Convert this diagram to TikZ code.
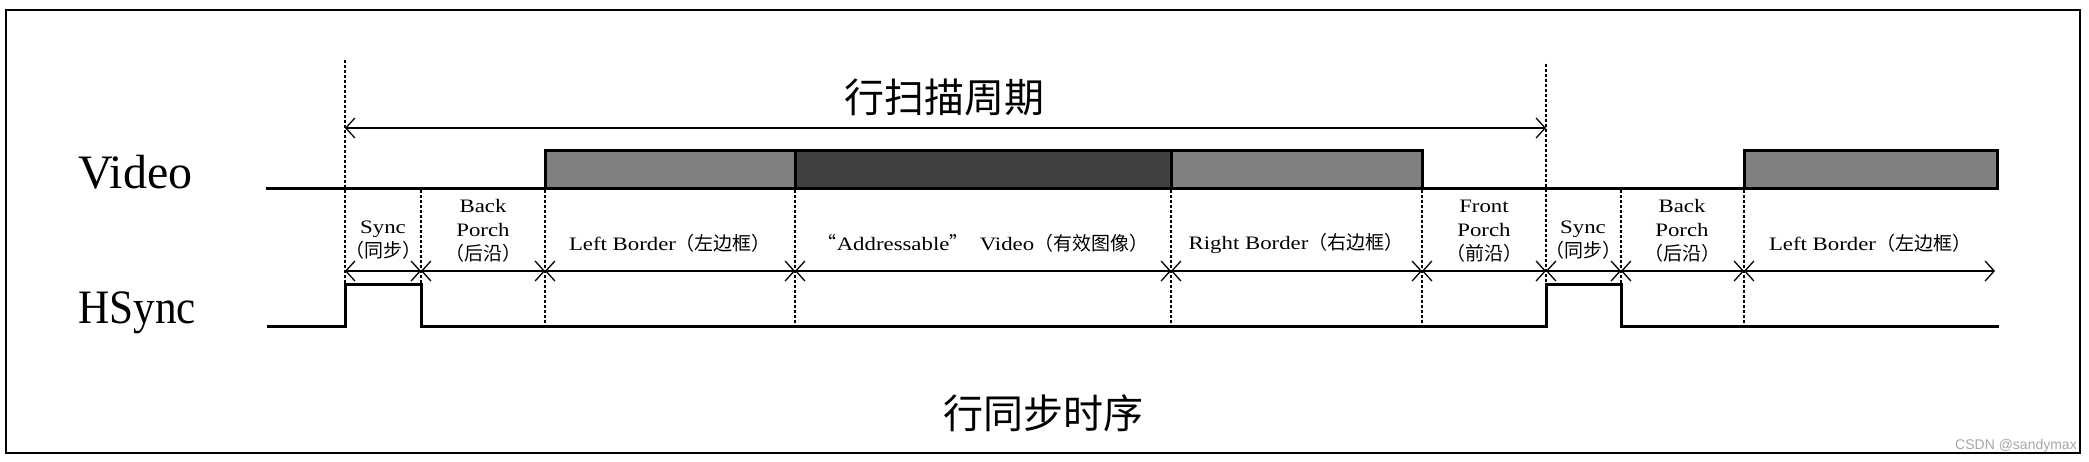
\documentclass[tikz,border=0pt]{standalone}
\usepackage{fontspec}
\setmainfont{Liberation Serif}
\newfontfamily\lat[FakeStretch=1.2]{Liberation Serif}
\newfontfamily\latn[FakeStretch=0.9]{Liberation Serif}
\newfontfamily\cjk{Noto Sans CJK SC}
\newfontfamily\wmfont{Liberation Sans}
\usetikzlibrary{arrows.meta}
\definecolor{lgray}{HTML}{808080}
\definecolor{dgray}{HTML}{404040}
\begin{document}
\begin{tikzpicture}[x=1pt,y=-1pt,
  sig/.style={line width=3pt, line join=miter, line cap=rect},
  guide/.style={line width=1.2pt, dash pattern=on 3pt off 2pt},
  dim/.style={line width=1.3pt, {Straight Barb[length=9pt,width=20pt]}-{Straight Barb[length=9pt,width=20pt]}},
  lbl/.style={font=\lat\fontsize{19}{24}\selectfont, align=center, inner sep=0pt},
  big/.style={font=\fontsize{48}{48}\selectfont, inner sep=0pt, anchor=base west},
  ttl/.style={font=\cjk\fontsize{40}{40}\selectfont, inner sep=0pt}]
\useasboundingbox (0,0) rectangle (2089,462);
% frame
\draw[line width=2.5pt] (6,10) rectangle (2080,453);

% time points on the dimension line
\foreach \n/\x in {a/345,b/421,c/545,d/795,e/1171,f/1422,g/1546,h/1621,i/1744,j/1995}{
  \coordinate (m\n) at (\x,271);
}
% fills of the video signal
\fill[lgray] (545,151) rectangle (795,189);
\fill[dgray] (795,151) rectangle (1171,189);
\fill[lgray] (1171,151) rectangle (1422,189);
\fill[lgray] (1744,151) rectangle (1997,189);

% dashed guides
\draw[guide] (345,60) -- (345,327);
\draw[guide] (1546,64) -- (1546,327);
\foreach \x in {421,545,795,1171,1422,1621,1744}{
  \draw[guide] (\x,190) -- (\x,327);
}

% video signal outline
\draw[sig] (267,189) -- (1997,189);
\draw[sig] (545,189) -- (545,151) -- (1422,151) -- (1422,189);
\draw[sig] (795,151) -- (795,189);
\draw[sig] (1171,151) -- (1171,189);
\draw[sig] (1744,189) -- (1744,151) -- (1997,151) -- (1997,189);

% hsync signal
\draw[sig] (268,327) -- (345,327) -- (345,285) -- (421,285) -- (421,327)
  -- (1546,327) -- (1546,285) -- (1621,285) -- (1621,327) -- (1997,327);

% scan period arrow
\coordinate (sa) at (345,128);
\coordinate (sb) at (1546,128);
\draw[dim] (sa) -- (sb);

% dimension segments
\draw[dim] (ma) -- (mb);
\draw[dim] (mb) -- (mc);
\draw[dim] (mc) -- (md);
\draw[dim] (md) -- (me);
\draw[dim] (me) -- (mf);
\draw[dim] (mf) -- (mg);
\draw[dim] (mg) -- (mh);
\draw[dim] (mh) -- (mi);
\draw[dim] (mi) -- (mj);

% labels
\node[big] (video) at (78,189) {Video};
\node[big, font=\latn\fontsize{48}{48}\selectfont] (hsync) at (78,324) {HSync};
\node[ttl] (period) at (944,97) {行扫描周期};
\node[ttl] (timing) at (1043,413) {行同步时序};

\node[lbl] (sync1) at (383,240) {Sync\\{\cjk（同步）}};
\node[lbl] (bp1) at (483,231) {Back\\Porch\\{\cjk（后沿）}};
\node[lbl] (lb1) at (670,243) {Left Border{\cjk（左边框）}};
\node[lbl] (av) at (983,243) {{\cjk“}Addressable{\cjk”}\ \ Video{\cjk（有效图像）}};
\node[lbl] (rb) at (1296,243) {Right Border{\cjk（右边框）}};
\node[lbl] (fp) at (1484,231) {Front\\Porch\\{\cjk（前沿）}};
\node[lbl] (sync2) at (1583,240) {Sync\\{\cjk（同步）}};
\node[lbl] (bp2) at (1682,231) {Back\\Porch\\{\cjk（后沿）}};
\node[lbl] (lb2) at (1870,243) {Left Border{\cjk（左边框）}};

\node[font=\wmfont\fontsize{14}{14}\selectfont, text=black!35, inner sep=0pt] (wm) at (2016,446) {CSDN @sandymax};
\end{tikzpicture}
\end{document}
